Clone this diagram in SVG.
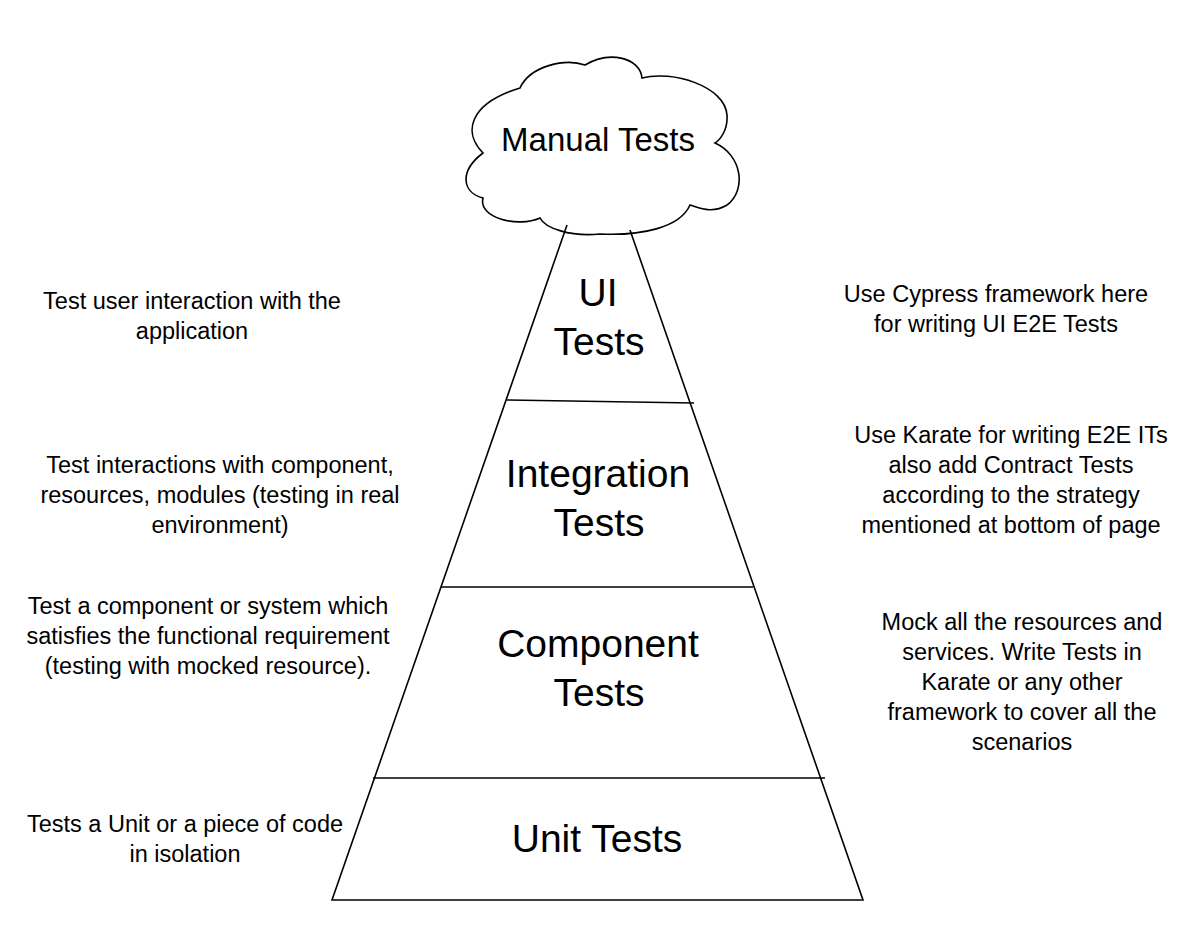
<svg xmlns="http://www.w3.org/2000/svg" width="1200" height="927" viewBox="0 0 1200 927">
<style>
.s{fill:none;stroke:#000;stroke-width:1.6}
.t{font-family:"Liberation Sans",Arial,sans-serif;fill:#000}
.big{font-size:39px;text-anchor:middle}
.sm{font-size:23.5px;text-anchor:middle}
</style>
<rect width="1200" height="927" fill="#fff"/>
<g id="connectors">
<path class="s" d="M567,225 L332,900 L863,900 L630,230"/>
<line class="s" x1="507" y1="400" x2="694" y2="403"/>
<line class="s" x1="441" y1="587" x2="753" y2="587"/>
<line class="s" x1="373" y1="778" x2="825" y2="778"/>
</g>
<g id="cloud">
<path class="s" fill="#fff" d="M520,88 C530,66 565,58 585,65 C610,50 640,58 642,78 C672,70 725,86 727,115 C728,130 720,140 715,143 C742,155 747,190 727,205 C712,214 700,208 690,205 C680,228 640,236 600,234 C570,237 545,228 540,218 C518,228 478,218 483,198 C463,193 458,172 483,153 C463,133 468,104 520,88 Z"/>
<text class="t big" x="598" y="151" style="font-size:33px">Manual Tests</text>
</g>
<g id="ui"><text class="t big" x="598" y="306">UI</text><text class="t big" x="599" y="355">Tests</text></g>
<g id="integration"><text class="t big" x="598" y="487">Integration</text><text class="t big" x="599" y="536">Tests</text></g>
<g id="component"><text class="t big" x="598" y="657">Component</text><text class="t big" x="599" y="706">Tests</text></g>
<g id="unit"><text class="t big" x="597" y="852">Unit Tests</text></g>
<g id="notes">
<text class="t sm" x="192" y="309">Test user interaction with the</text>
<text class="t sm" x="192" y="339">application</text>
<text class="t sm" x="996" y="302">Use Cypress framework here</text>
<text class="t sm" x="996" y="332">for writing UI E2E Tests</text>
<text class="t sm" x="220" y="473">Test interactions with component,</text>
<text class="t sm" x="220" y="503">resources, modules (testing in real</text>
<text class="t sm" x="220" y="533">environment)</text>
<text class="t sm" x="1011" y="443">Use Karate for writing E2E ITs</text>
<text class="t sm" x="1011" y="473">also add Contract Tests</text>
<text class="t sm" x="1011" y="503">according to the strategy</text>
<text class="t sm" x="1011" y="533">mentioned at bottom of page</text>
<text class="t sm" x="208" y="614">Test a component or system which</text>
<text class="t sm" x="208" y="644">satisfies the functional requirement</text>
<text class="t sm" x="208" y="674">(testing with mocked resource).</text>
<text class="t sm" x="1022" y="630">Mock all the resources and</text>
<text class="t sm" x="1022" y="660">services. Write Tests in</text>
<text class="t sm" x="1022" y="690">Karate or any other</text>
<text class="t sm" x="1022" y="720">framework to cover all the</text>
<text class="t sm" x="1022" y="750">scenarios</text>
<text class="t sm" x="185" y="832">Tests a Unit or a piece of code</text>
<text class="t sm" x="185" y="862">in isolation</text>
</g>
</svg>
